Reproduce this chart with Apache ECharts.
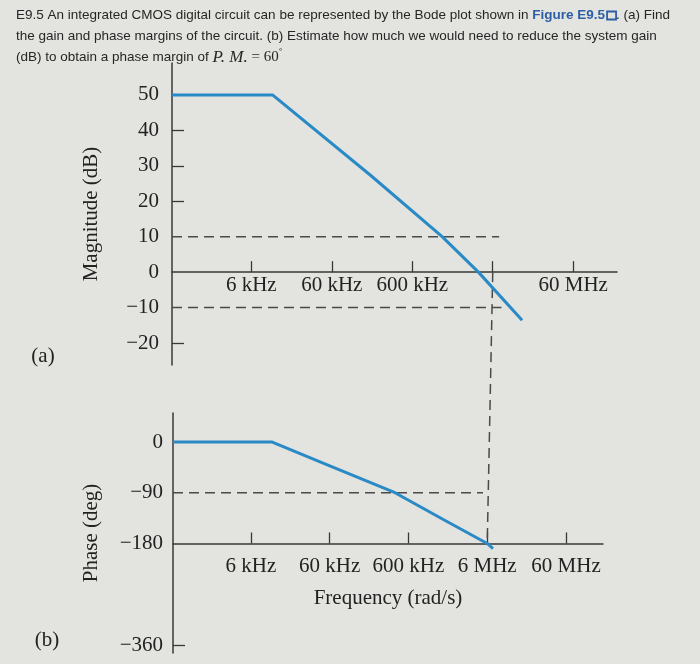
<!DOCTYPE html>
<html><head><meta charset="utf-8">
<script src="https://cdn.jsdelivr.net/npm/echarts@6/dist/echarts.min.js"></script>
<style>html,body{margin:0;padding:0;background:#e3e3df}#c{width:700px;height:664px}</style>
</head><body><div id="c"></div>
<script>
// ---- data ----
const freqTickValues = [6e3, 6e4, 6e5, 6e6, 6e7];
const magFreqLabels = ['6 kHz', '60 kHz', '600 kHz', '', '60 MHz'];
const phaseFreqLabels = ['6 kHz', '60 kHz', '600 kHz', '6 MHz', '60 MHz'];
const magLabelValues = [50, 40, 30, 20, 10, 0, -10, -20];
const magTickValues = [40, 30, 20, -20];
const phaseLabelValues = [0, -90, -180, -360];
const phaseTickValues = [-360];
const magFreq = [620, 11000, 180000, 1410000, 3980000, 13900000];
const magDb = [50, 50, 27.4, 10, 0, -13.6];
const phaseFreq = [615, 11000, 55000, 405000, 1640000, 6000000, 7100000];
const phaseDeg = [0, 0, -40, -90, -137, -180, -189];
const magGuideDb = [10, -10];
const magGuideEnd = [7.2e6, 7.7e6];
const phaseGuideDeg = -90;
const phaseGuideEnd = 5.3e6;
const crossFreq = 6e6;
const crossMag = 0;
const crossPhase = -180;
const magRange = [620, 2.1e8, -26.2, 59];
const phaseRange = [615, 1.77e8, -374.2, 51.4];

// ---- styles ----
const ink = '#383838';
const blue = '#2a8ac6';
const serif = '"Liberation Serif", "DejaVu Serif", serif';
const dash = {color: '#4a4a4a', width: 1.5, type: [10, 6]};

function fmtNum(v) { return v < 0 ? '\u2212' + Math.abs(v) : String(v); }
function freqFmt(labels) {
  return function (v) {
    const i = freqTickValues.findIndex(t => Math.abs(Math.log10(t) - Math.log10(v)) < 1e-6);
    return i >= 0 ? labels[i] : '';
  };
}
const zip = (a, b) => a.map((x, i) => [x, b[i]]);

const grids = [
  {left: 172, top: 63, width: 445, height: 302},
  {left: 173, top: 413, width: 430, height: 240}
];
// move each x axis up from the grid bottom to the level where it crosses the y axis
const magAxisOffset = -(grids[0].height * (crossMag - magRange[2]) / (magRange[3] - magRange[2]));
const phaseAxisOffset = -(grids[1].height * (crossPhase - phaseRange[2]) / (phaseRange[3] - phaseRange[2]));

const chart = echarts.init(document.getElementById('c'), null, {renderer: 'canvas'});
const option = {
  backgroundColor: '#e3e3df',
  animation: false,
  grid: grids.map(g => Object.assign({outerBoundsMode: 'none', containLabel: false}, g)),
  xAxis: [
    {
      type: 'log', gridIndex: 0, min: magRange[0], max: magRange[1],
      offset: magAxisOffset,
      axisLine: {onZero: false, lineStyle: {color: ink, width: 1.5}},
      axisTick: {inside: true, length: 11, customValues: freqTickValues, lineStyle: {color: ink, width: 1.3}},
      axisLabel: {customValues: freqTickValues, formatter: freqFmt(magFreqLabels), margin: 3,
        fontFamily: serif, fontSize: 21, color: '#222'},
      splitLine: {show: false}, minorTick: {show: false}
    },
    {
      type: 'log', gridIndex: 1, min: phaseRange[0], max: phaseRange[1],
      offset: phaseAxisOffset,
      axisLine: {onZero: false, lineStyle: {color: ink, width: 1.5}},
      axisTick: {inside: true, length: 11, customValues: freqTickValues, lineStyle: {color: ink, width: 1.3}},
      axisLabel: {customValues: freqTickValues, formatter: freqFmt(phaseFreqLabels), margin: 12,
        fontFamily: serif, fontSize: 21, color: '#222'},
      splitLine: {show: false},
      name: 'Frequency (rad/s)', nameLocation: 'middle', nameGap: 44,
      nameTextStyle: {fontFamily: serif, fontSize: 21, color: '#222'}
    }
  ],
  yAxis: [
    {
      type: 'value', gridIndex: 0, min: magRange[2], max: magRange[3],
      axisLine: {show: true, onZero: false, lineStyle: {color: ink, width: 1.5}},
      axisTick: {show: true, inside: true, length: 12, customValues: magTickValues, lineStyle: {color: ink, width: 1.3}},
      axisLabel: {customValues: magLabelValues, formatter: fmtNum, margin: 13,
        fontFamily: serif, fontSize: 21, color: '#222'},
      splitLine: {show: false},
      name: 'Magnitude (dB)', nameLocation: 'middle', nameRotate: 90, nameGap: 70,
      nameTextStyle: {fontFamily: serif, fontSize: 21, color: '#222'}
    },
    {
      type: 'value', gridIndex: 1, min: phaseRange[2], max: phaseRange[3],
      axisLine: {show: true, onZero: false, lineStyle: {color: ink, width: 1.5}},
      axisTick: {show: true, inside: true, length: 12, customValues: phaseTickValues, lineStyle: {color: ink, width: 1.3}},
      axisLabel: {customValues: phaseLabelValues, formatter: fmtNum, margin: 10,
        fontFamily: serif, fontSize: 21, color: '#222'},
      splitLine: {show: false},
      name: 'Phase (deg)', nameLocation: 'middle', nameRotate: 90, nameGap: 71,
      nameTextStyle: {fontFamily: serif, fontSize: 21, color: '#222'}
    }
  ],
  series: [
    {type: 'line', xAxisIndex: 0, yAxisIndex: 0, z: 1, symbol: 'none', silent: true,
      data: [[magRange[0], magGuideDb[0]], [magGuideEnd[0], magGuideDb[0]]], lineStyle: dash},
    {type: 'line', xAxisIndex: 0, yAxisIndex: 0, z: 1, symbol: 'none', silent: true,
      data: [[magRange[0], magGuideDb[1]], [magGuideEnd[1], magGuideDb[1]]], lineStyle: dash},
    {type: 'line', xAxisIndex: 1, yAxisIndex: 1, z: 1, symbol: 'none', silent: true,
      data: [[phaseRange[0], phaseGuideDeg], [phaseGuideEnd, phaseGuideDeg]], lineStyle: dash},
    {name: 'Magnitude', type: 'line', xAxisIndex: 0, yAxisIndex: 0, z: 3, symbol: 'none',
      data: zip(magFreq, magDb), lineStyle: {color: blue, width: 3}},
    {name: 'Phase', type: 'line', xAxisIndex: 1, yAxisIndex: 1, z: 3, symbol: 'none', clip: false,
      data: zip(phaseFreq, phaseDeg), lineStyle: {color: blue, width: 3}}
  ],
  graphic: [
    {type: 'text', left: 16, top: 5, style: {
      text: 'E9.5 An integrated CMOS digital circuit can be represented by the Bode plot shown in {fig|Figure E9.5}{gap| }{ico|}. (a) Find\n' +
            'the gain and phase margins of the circuit. (b) Estimate how much we would need to reduce the system gain\n' +
            '(dB) to obtain a phase margin of {it|P. M.}{m| = 60}{sup|\u00b0}',
      font: '13.5px "Liberation Sans", Arial, sans-serif', fill: '#262626', lineHeight: 21,
      rich: {
        fig: {fill: '#2d5fa6', fontWeight: 'bold', fontSize: 13.5, fontFamily: '"Liberation Sans", sans-serif', lineHeight: 21},
        gap: {width: 2, lineHeight: 21},
        ico: {width: 9, height: 8, borderColor: '#2d5fa6', borderWidth: 1.8, lineHeight: 21},
        it: {fontFamily: serif, fontStyle: 'italic', fontSize: 17, fill: '#262626', lineHeight: 21},
        m: {fontFamily: serif, fontSize: 15, fill: '#262626', lineHeight: 21},
        sup: {fontFamily: serif, fontSize: 9, fill: '#262626', verticalAlign: 'top', lineHeight: 14}
      }
    }},
    {type: 'text', x: 43, y: 356, style: {text: '(a)', font: '21px ' + serif, fill: '#222', align: 'center', verticalAlign: 'middle'}},
    {type: 'text', x: 47, y: 640, style: {text: '(b)', font: '21px ' + serif, fill: '#222', align: 'center', verticalAlign: 'middle'}}
  ]
};
chart.setOption(option);

// vertical dashed guide from the 0 dB crossing tick down to the phase -180 line
const pTop = chart.convertToPixel({xAxisIndex: 0, yAxisIndex: 0}, [crossFreq, crossMag]);
const pBot = chart.convertToPixel({xAxisIndex: 1, yAxisIndex: 1}, [crossFreq, crossPhase]);
chart.setOption({graphic: option.graphic.concat([
  {type: 'line', z: 1, shape: {x1: pTop[0], y1: pTop[1], x2: pBot[0], y2: pBot[1]},
    style: {stroke: '#4a4a4a', lineWidth: 1.5, lineDash: [10, 6]}}
])});
</script>
</body></html>
